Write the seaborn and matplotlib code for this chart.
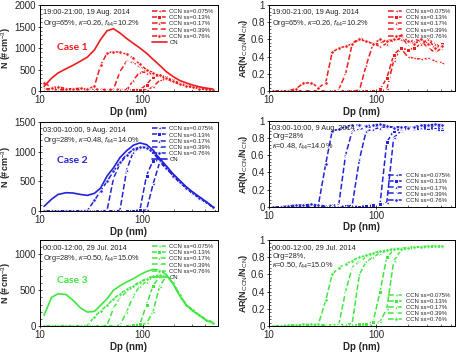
import numpy as np
import pandas as pd
import seaborn as sns
import matplotlib.pyplot as plt
from matplotlib.ticker import MultipleLocator

# diameter grid (nm)
DP = [11, 13, 15, 18, 21, 25, 29, 34, 39, 45, 52, 60, 70, 81, 94, 109, 126,
      146, 170, 197, 228, 265, 307, 356, 413, 480]
SS = ["0.075%", "0.13%", "0.17%", "0.39%", "0.76%"]

# ---- Case 1 ----
cn1 = [110, 300, 420, 520, 600, 700, 790, 960, 1200, 1400, 1450, 1350, 1220,
       1110, 1000, 880, 740, 600, 450, 340, 250, 190, 140, 100, 70, 50]
ccn1 = [
    [40, 50, 30, 40, 50, 40, 30, 40, 30, 40, 30, 40, 30, 30, 40, 30, 100, 250, 280, 230, 180, 130, 90, 60, 40, 30],
    [30, 40, 50, 40, 30, 50, 40, 30, 40, 30, 40, 30, 40, 30, 30, 150, 330, 380, 320, 250, 190, 140, 100, 70, 40, 30],
    [50, 40, 30, 50, 40, 30, 50, 40, 30, 40, 30, 40, 30, 250, 450, 430, 390, 340, 280, 220, 170, 120, 90, 60, 40, 30],
    [60, 50, 40, 30, 50, 40, 30, 50, 40, 30, 40, 450, 700, 660, 560, 460, 410, 360, 290, 220, 160, 120, 90, 60, 40, 30],
    [200, 80, 100, 60, 50, 70, 40, 120, 600, 880, 920, 900, 860, 760, 620, 500, 430, 370, 300, 230, 170, 120, 90, 60, 40, 30],
]
ar1 = [
    [0, 0, 0, 0, 0, 0, 0, 0, 0, 0, 0, 0, 0, 0, 0, 0, 0.02, 0.35, 0.5, 0.4, 0.38, 0.37, 0.38, 0.35, 0.33],
    [0, 0, 0, 0, 0, 0, 0, 0, 0, 0, 0, 0, 0, 0, 0, 0.02, 0.15, 0.42, 0.5, 0.48, 0.5, 0.55, 0.6, 0.5, 0.55],
    [0, 0, 0, 0, 0, 0, 0, 0, 0, 0, 0, 0, 0.01, 0.3, 0.55, 0.52, 0.55, 0.6, 0.6, 0.55, 0.58, 0.55, 0.6, 0.55, 0.5],
    [0, 0, 0, 0, 0, 0, 0, 0, 0, 0.02, 0.2, 0.55, 0.62, 0.58, 0.55, 0.55, 0.6, 0.58, 0.62, 0.55, 0.6, 0.58, 0.5, 0.45, 0.5],
    [0, 0, 0, 0.03, 0.09, 0.1, 0.04, 0.1, 0.45, 0.5, 0.52, 0.55, 0.6, 0.58, 0.55, 0.6, 0.58, 0.6, 0.65, 0.58, 0.55, 0.6, 0.55, 0.5, 0.52],
]

# ---- Case 2 ----
cn2 = [80, 200, 280, 310, 305, 280, 265, 300, 390, 590, 730, 900, 1020, 1110,
       1150, 1120, 1030, 890, 760, 630, 520, 410, 320, 240, 160, 70]
ccn2 = [
    [5, 5, 5, 5, 5, 5, 5, 5, 5, 5, 5, 5, 5, 5, 5, 20, 450, 820, 720, 600, 490, 390, 300, 220, 150, 70],
    [5, 5, 5, 5, 5, 5, 5, 5, 5, 5, 5, 5, 5, 5, 20, 600, 850, 850, 730, 600, 490, 390, 300, 220, 150, 70],
    [5, 5, 5, 5, 5, 5, 5, 5, 5, 5, 5, 10, 700, 1000, 1070, 1070, 990, 860, 730, 600, 490, 390, 300, 220, 150, 70],
    [5, 5, 5, 5, 5, 5, 5, 5, 5, 10, 550, 800, 940, 1040, 1080, 1070, 990, 860, 730, 600, 490, 390, 300, 220, 150, 70],
    [5, 5, 5, 5, 5, 5, 10, 180, 340, 500, 670, 830, 950, 1040, 1080, 1070, 990, 860, 730, 600, 490, 390, 300, 220, 150, 70],
]
ar2 = [
    [0, 0, 0, 0.01, 0, 0, 0.01, 0, 0, 0.01, 0, 0, 0.01, 0, 0.01, 0.02, 0.05, 0.8, 0.88, 0.9, 0.9, 0.9, 0.91, 0.9, 0.88],
    [0, 0, 0, 0, 0.01, 0, 0, 0.01, 0, 0, 0.01, 0, 0, 0.01, 0.02, 0.03, 0.75, 0.88, 0.9, 0.91, 0.9, 0.92, 0.92, 0.93, 0.9],
    [0, 0, 0, 0, 0, 0.02, 0.01, 0, 0.01, 0, 0, 0.02, 0.55, 0.88, 0.9, 0.92, 0.93, 0.92, 0.92, 0.93, 0.92, 0.93, 0.94, 0.95, 0.93],
    [0, 0, 0, 0.01, 0.02, 0.01, 0.02, 0.01, 0.02, 0.03, 0.6, 0.88, 0.9, 0.92, 0.93, 0.95, 0.94, 0.92, 0.93, 0.92, 0.93, 0.94, 0.95, 0.94, 0.96],
    [0, 0, 0.01, 0.02, 0.02, 0.03, 0.02, 0.5, 0.88, 0.9, 0.93, 0.95, 0.95, 0.94, 0.95, 0.96, 0.94, 0.92, 0.93, 0.92, 0.93, 0.95, 0.95, 0.96, 0.95],
]

# ---- Case 3 ----
cn3 = [150, 400, 450, 440, 360, 250, 195, 205, 290, 380, 500, 560, 615, 660,
       715, 760, 790, 780, 715, 590, 430, 290, 210, 150, 80, 45]
ccn3 = [
    [5, 5, 5, 5, 5, 5, 5, 5, 5, 5, 5, 5, 5, 5, 10, 40, 200, 550, 700, 620, 430, 300, 220, 150, 90, 50],
    [5, 5, 5, 5, 5, 5, 5, 5, 5, 5, 5, 5, 5, 10, 30, 300, 560, 690, 700, 610, 430, 300, 220, 150, 90, 50],
    [5, 5, 5, 5, 5, 5, 5, 5, 5, 5, 5, 10, 200, 420, 560, 620, 680, 700, 700, 600, 430, 300, 220, 150, 90, 50],
    [5, 5, 5, 5, 5, 5, 5, 5, 5, 10, 250, 390, 480, 550, 610, 650, 690, 710, 700, 600, 430, 300, 220, 150, 90, 50],
    [5, 5, 5, 5, 5, 5, 10, 130, 210, 290, 380, 450, 510, 560, 620, 660, 700, 710, 700, 600, 430, 300, 220, 150, 90, 50],
]
ar3 = [
    [0, 0, 0, 0.01, 0, 0.01, 0, 0.01, 0, 0.01, 0, 0.01, 0.02, 0.01, 0.02, 0.05, 0.2, 0.75, 0.88, 0.9, 0.9, 0.91, 0.91, 0.92, 0.92],
    [0, 0, 0, 0, 0.01, 0, 0.01, 0, 0.01, 0, 0.01, 0.01, 0.02, 0.03, 0.05, 0.4, 0.8, 0.88, 0.9, 0.9, 0.91, 0.92, 0.92, 0.92, 0.93],
    [0, 0, 0, 0.01, 0, 0.02, 0.01, 0.02, 0.01, 0.02, 0.02, 0.03, 0.6, 0.75, 0.8, 0.85, 0.87, 0.89, 0.9, 0.91, 0.91, 0.92, 0.92, 0.93, 0.92],
    [0, 0, 0.01, 0.01, 0.02, 0.01, 0.02, 0.01, 0.02, 0.02, 0.4, 0.68, 0.75, 0.8, 0.84, 0.86, 0.88, 0.9, 0.9, 0.91, 0.92, 0.92, 0.93, 0.92, 0.93],
    [0, 0, 0.01, 0.01, 0.02, 0.02, 0.02, 0.3, 0.6, 0.68, 0.72, 0.76, 0.8, 0.82, 0.85, 0.87, 0.88, 0.9, 0.9, 0.91, 0.92, 0.92, 0.93, 0.93, 0.93],
]

CASES = [
    dict(cn=cn1, ccn=ccn1, ar=ar1, color="#ee1c1c", name="Case 1", nmax=2000,
         nticks=[0, 500, 1000, 1500, 2000], case_y=0.51,
         txt_n="19:00-21:00, 19 Aug. 2014\nOrg=65%, $\\kappa$=0.26, $f_{44}$=10.2%",
         txt_ar="19:00-21:00, 19 Aug. 2014\nOrg=65%, $\\kappa$=0.26, $f_{44}$=10.2%",
         ar_leg="upper right"),
    dict(cn=cn2, ccn=ccn2, ar=ar2, color="#2323d8", name="Case 2", nmax=1500,
         nticks=[0, 500, 1000, 1500], case_y=0.57,
         txt_n="03:00-10:00, 9 Aug. 2014\nOrg=28%, $\\kappa$=0.48, $f_{44}$=14.0%",
         txt_ar="03:00-10:00, 9 Aug. 2014\nOrg=28%\n$\\kappa$=0.48, $f_{44}$=14.0%",
         ar_leg="lower right"),
    dict(cn=cn3, ccn=ccn3, ar=ar3, color="#3ee83e", name="Case 3", nmax=1200,
         nticks=[0, 500, 1000], case_y=0.535,
         txt_n="00:00-12:00, 29 Jul. 2014\nOrg=28%, $\\kappa$=0.50, $f_{44}$=15.0%",
         txt_ar="00:00-12:00, 29 Jul. 2014\nOrg=28%,\n$\\kappa$=0.50, $f_{44}$=15.0%",
         ar_leg="lower right"),
]
MARKERS = ["<", "s", "^", "x", "o"]

sns.set_theme(style="ticks")
plt.rcParams["font.family"] = ["Liberation Sans", "DejaVu Sans"]
plt.rcParams["mathtext.fontset"] = "custom"
plt.rcParams["mathtext.rm"] = "Liberation Sans"
plt.rcParams["mathtext.it"] = "Liberation Sans:italic"

fig = plt.figure(figsize=(4.74, 3.56), dpi=100)

left_rects = [[0.084, 0.744, 0.376, 0.242], [0.084, 0.407, 0.376, 0.250], [0.084, 0.084, 0.376, 0.242]]
right_rects = [[0.567, 0.744, 0.392, 0.242], [0.567, 0.419, 0.392, 0.242], [0.567, 0.084, 0.392, 0.242]]


def style_axis(ax, yminor):
    ax.set_xscale("log")
    ax.set_xlim(10, 540)
    ax.set_xticks([10, 100])
    ax.set_xticklabels(["10", "100"])
    ax.yaxis.set_minor_locator(MultipleLocator(yminor))
    ax.tick_params(axis="both", which="major", labelsize=7, length=3, width=0.6,
                   pad=1.5, direction="inout")
    ax.tick_params(axis="both", which="minor", length=1.5, width=0.5, direction="in")
    for s in ax.spines.values():
        s.set_linewidth(0.7)
        s.set_color("black")
    ax.set_xlabel("Dp (nm)", fontsize=7, fontweight="bold", labelpad=1)


for i, c in enumerate(CASES):
    col = c["color"]
    # number size distribution
    ax = fig.add_axes(left_rects[i])
    for k, ss in enumerate(SS):
        sns.lineplot(x=DP, y=c["ccn"][k], ax=ax, color=col, linestyle="--",
                     linewidth=1.1, marker=MARKERS[k], markersize=2.6,
                     markeredgewidth=0.7, label="CCN ss=" + ss)
    sns.lineplot(x=DP, y=c["cn"], ax=ax, color=col, linewidth=1.2, label="CN")
    style_axis(ax, 100)
    ax.set_ylim(0, c["nmax"])
    ax.set_yticks(c["nticks"])
    ax.set_ylabel("N (#cm$^{-3}$)", fontsize=6.5, fontweight="bold", labelpad=1)
    ax.text(0.02, 0.95, c["txt_n"], transform=ax.transAxes, fontsize=5.3,
            va="top", ha="left", linespacing=1.25)
    ax.text(0.095, c["case_y"], c["name"], transform=ax.transAxes,
            fontsize=7.5, color=col, fontweight="bold", family="Lato", va="center")
    ax.legend(loc="upper right", fontsize=4.3, frameon=False, handlelength=2.6,
              labelspacing=0.15, borderaxespad=0.3, handletextpad=0.4)

    # activation ratio
    ax = fig.add_axes(right_rects[i])
    for k, ss in enumerate(SS):
        sns.lineplot(x=DP[:len(c["ar"][k])], y=c["ar"][k], ax=ax, color=col,
                     linestyle="--", linewidth=1.1, marker=MARKERS[k],
                     markersize=2.6, markeredgewidth=0.7, label="CCN ss=" + ss)
    style_axis(ax, 0.04)
    ax.set_ylim(0, 1)
    ax.set_yticks([0, 0.2, 0.4, 0.6, 0.8, 1])
    ax.set_yticklabels(["0", "0.2", "0.4", "0.6", "0.8", "1"])
    ax.set_ylabel("AR(N$_{\\rm CCN}$/N$_{\\rm CN}$)", fontsize=6.5, fontweight="bold", labelpad=1)
    ax.text(0.02, 0.95, c["txt_ar"], transform=ax.transAxes, fontsize=5.3,
            va="top", ha="left", linespacing=1.25)
    ax.legend(loc=c["ar_leg"], fontsize=4.3, frameon=False, handlelength=2.6,
              labelspacing=0.15, borderaxespad=0.3, handletextpad=0.4)

fig.savefig("out.png", dpi=100)
